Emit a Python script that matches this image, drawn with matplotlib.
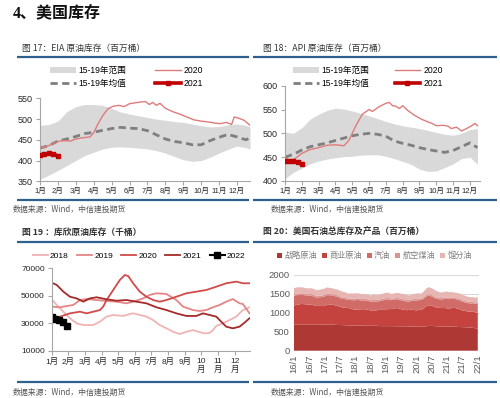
import matplotlib
matplotlib.use('Agg')
import matplotlib.pyplot as plt
from matplotlib.lines import Line2D
from matplotlib.patches import Patch

plt.rcParams['font.family'] = ['Liberation Sans', 'Noto Sans CJK SC']

# ---------------- data ----------------
months = ['1月', '2月', '3月', '4月', '5月', '6月', '7月', '8月', '9月', '10月', '11月', '12月']
months_wrap = ['1月', '2月', '3月', '4月', '5月', '6月', '7月', '8月', '9月', '10\n月', '11\n月', '12\n月']

# EIA (million bbl), x in months from January
eia_band_x = [0, 0.5, 1, 1.5, 2, 2.5, 3, 3.5, 4, 4.5, 5, 5.5, 6, 6.5, 7, 7.5, 8, 8.5, 9, 9.5, 10, 10.5, 11, 11.5, 11.73]
eia_hi = [485, 487, 495, 518, 530, 535, 535, 533, 526, 517, 512, 508, 504, 500, 497, 494, 492, 488, 484, 481, 482, 486, 488, 485, 481]
eia_lo = [355, 365, 376, 388, 400, 412, 420, 428, 432, 433, 432, 430, 428, 424, 418, 410, 402, 398, 400, 408, 418, 427, 435, 431, 428]
eia_mean = [430, 436, 447, 452, 458, 465, 468, 473, 477, 480, 478, 477, 472, 462, 452, 446, 443, 438, 438, 448, 456, 463, 457, 450, 455]
eia_2020_x = [0, 0.3, 0.6, 1.0, 1.3, 1.7, 2.0, 2.4, 2.8, 3.0, 3.2, 3.5, 3.8, 4.1, 4.4, 4.7, 5.0, 5.3, 5.6, 5.9, 6.1, 6.3, 6.5, 6.7, 7.0,
              7.4, 7.8, 8.2, 8.6, 9.0, 9.4, 9.8, 10.1, 10.4, 10.7, 10.85, 11.1, 11.4, 11.73]
eia_2020 = [431, 433, 438, 446, 448, 447, 452, 455, 457, 467, 485, 508, 525, 531, 533, 530, 537, 539, 541, 542, 535, 540, 533, 538, 526,
            518, 512, 505, 498, 495, 493, 490, 489, 492, 487, 505, 502, 497, 485]
eia_2021_x = [0, 0.25, 0.5, 0.75, 1.0]
eia_2021 = [413, 415, 417, 416, 411]

# API (million bbl)
api_band_x = [0, 0.5, 1, 1.5, 2, 2.5, 3, 3.5, 4, 4.5, 5, 5.5, 6, 6.5, 7, 7.5, 8, 8.5, 9, 9.5, 10, 10.5, 11, 11.45]
api_hi = [503, 500, 512, 530, 540, 548, 553, 551, 547, 542, 537, 531, 525, 520, 516, 513, 510, 506, 502, 498, 496, 500, 508, 510]
api_lo = [405, 418, 427, 436, 442, 446, 449, 451, 452, 454, 455, 455, 452, 447, 441, 435, 425, 420, 421, 428, 436, 447, 450, 435]
api_mean = [450, 456, 465, 472, 476, 480, 485, 490, 495, 498, 500, 498, 494, 484, 479, 475, 470, 466, 463, 460, 464, 472, 480, 470]
api_2020_x = [0, 0.3, 0.6, 1.0, 1.5, 2.0, 2.5, 3.0, 3.5, 3.8, 4.2, 4.6, 5.0, 5.2, 5.6, 6.0, 6.2, 6.4, 6.6, 6.8, 7.0, 7.3, 7.7, 8.1,
              8.5, 8.8, 9.0, 9.4, 9.7, 9.9, 10.2, 10.5, 10.8, 11.1, 11.3, 11.45]
api_2020 = [449, 443, 447, 458, 466, 470, 475, 476, 474, 485, 515, 540, 550, 546, 556, 563, 565, 558, 557, 552, 558, 548, 538, 530,
            524, 520, 516, 517, 515, 510, 513, 505, 510, 516, 521, 516]
api_2021_x = [0, 0.25, 0.5, 0.75, 1.0]
api_2021 = [441, 442, 441, 439, 436]

# Cushing (thousand bbl)
c2018_x = [0, 0.3, 0.7, 1.1, 1.5, 1.9, 2.5, 2.9, 3.3, 3.7, 4.3, 4.7, 4.9, 5.3, 5.7, 6.1, 6.5, 6.9, 7.3, 7.7, 8.1, 8.5, 8.9, 9.2, 9.5,
           9.7, 9.9, 10.3, 10.7, 11.1, 11.5, 11.9]
c2018 = [47400, 43300, 38400, 33600, 29900, 28700, 28700, 31100, 34800, 36000, 35300, 36700, 37200, 36000, 34800, 32300, 28700, 26300,
         23800, 22100, 23800, 25000, 23500, 22600, 23000, 25000, 28000, 29900, 32300, 34800, 39600, 41600]
c2019_x = [0, 0.5, 0.9, 1.3, 1.7, 2.1, 2.7, 3.3, 3.9, 4.5, 4.9, 5.5, 5.9, 6.3, 6.9, 7.5, 7.9, 8.5, 8.9, 9.3, 9.7, 10.1, 10.5, 10.9,
           11.3, 11.5, 11.9]
c2019 = [42100, 41600, 42500, 43300, 46900, 47600, 46900, 46200, 45700, 44500, 45700, 48100, 50600, 51800, 51300, 46900, 42100,
         39600, 38900, 39600, 41600, 43300, 45700, 47600, 44500, 44000, 37200]
c2020_x = [0, 0.5, 1.1, 1.7, 2.1, 2.5, 2.9, 3.1, 3.3, 3.7, 4.1, 4.4, 4.6, 4.9, 5.3, 5.7, 6.1, 6.5, 6.9, 7.5, 8.1, 8.7, 9.3, 9.9, 10.5,
           11.1, 11.5, 11.9]
c2020 = [33600, 34800, 37200, 38400, 37200, 38400, 39600, 42100, 46900, 54200, 61500, 65100, 64400, 59100, 53000, 49300, 46900,
         45700, 46900, 49300, 51800, 53000, 54200, 56600, 59100, 60300, 59100, 59100]
c2021_x = [0, 0.3, 0.7, 1.1, 1.5, 1.9, 2.3, 2.7, 3.3, 3.9, 4.5, 5.1, 5.7, 6.3, 6.9, 7.5, 8.1, 8.7, 9.1, 9.5, 9.9, 10.2, 10.5, 10.9,
           11.3, 11.6, 11.9]
c2021 = [59500, 57900, 53000, 49300, 48100, 45700, 48100, 48900, 47400, 46400, 46900, 45700, 44500, 41600, 39600, 37200, 35300,
         35300, 37200, 36000, 34800, 31100, 27500, 26300, 27500, 30400, 33600]
c2022_x = [0, 0.22, 0.45, 0.68, 0.9]
c2022 = [34800, 33300, 32000, 30800, 27800]

# US total petroleum stocks (million bbl), monthly 2016-01 .. 2022-01
stock_ticks = ['16/1', '16/7', '17/1', '17/7', '18/1', '18/7', '19/1', '19/7', '20/1', '20/7', '21/1', '21/7', '22/1']
spr = [695, 695, 695, 695, 695, 695, 695, 695, 695, 695, 695, 695,
       695, 692, 688, 688, 685, 680, 679, 676, 674, 669, 666, 663,
       662, 665, 665, 664, 660, 660, 659, 660, 658, 656, 650, 649,
       649, 649, 649, 649, 645, 645, 645, 645, 645, 640, 638, 635,
       635, 635, 635, 638, 645, 656, 656, 650, 645, 640, 638, 638,
       638, 638, 637, 634, 630, 625, 622, 620, 616, 612, 606, 594,
       590]
commercial = [500, 515, 530, 540, 535, 525, 520, 525, 500, 485, 490, 485,
              485, 520, 535, 530, 515, 505, 480, 465, 470, 458, 453, 432,
              420, 425, 428, 432, 435, 420, 405, 405, 405, 420, 445, 442,
              445, 450, 450, 460, 480, 475, 450, 440, 425, 435, 450, 440,
              430, 445, 455, 485, 535, 545, 530, 510, 495, 490, 488, 490,
              480, 465, 500, 495, 485, 465, 440, 435, 420, 420, 432, 420,
              415]
gasoline = [255, 258, 244, 241, 240, 238, 237, 232, 227, 222, 228, 236,
            255, 256, 242, 240, 241, 240, 233, 228, 220, 213, 220, 237,
            251, 252, 237, 232, 234, 240, 232, 234, 235, 225, 227, 240,
            257, 255, 235, 230, 233, 232, 233, 234, 228, 222, 225, 250,
            260, 255, 250, 262, 258, 255, 247, 232, 227, 227, 227, 240,
            250, 258, 232, 236, 232, 240, 232, 220, 222, 215, 215, 225,
            245]
jet = [42, 43, 44, 44, 43, 42, 43, 44, 45, 44, 43, 42,
       43, 44, 43, 42, 42, 41, 42, 43, 42, 41, 42, 41,
       40, 41, 40, 40, 41, 40, 41, 44, 44, 43, 42, 42,
       41, 42, 41, 41, 42, 41, 41, 43, 43, 42, 41, 41,
       42, 41, 40, 41, 42, 40, 40, 41, 41, 40, 39, 39,
       40, 40, 39, 38, 39, 40, 42, 42, 41, 40, 39, 38,
       36]
distillate = [155, 162, 160, 155, 150, 150, 153, 155, 155, 150, 155, 165,
              165, 160, 150, 150, 145, 150, 150, 149, 140, 130, 130, 140,
              140, 135, 128, 125, 120, 123, 125, 132, 130, 125, 128, 135,
              140, 135, 125, 128, 127, 130, 135, 140, 133, 122, 120, 133,
              143, 140, 130, 150, 175, 180, 178, 176, 162, 150, 145, 150,
              155, 142, 140, 135, 137, 138, 137, 137, 127, 125, 124, 127,
              125]
stock_names = ['战略原油', '商业原油', '汽油', '航空煤油', '馏分油']

# ---------------- figure ----------------
W, H = 500, 398
fig = plt.figure(figsize=(5, 3.98), dpi=100)


def fx(x):
    return x / W


def fy(y):
    return 1 - y / H


def add_ax(l, t, r, b):
    return fig.add_axes([l / W, 1 - b / H, (r - l) / W, (b - t) / H])


def hline(x0, x1, y, lw=1.6, color='#2f5f8f'):
    fig.add_artist(Line2D([fx(x0), fx(x1)], [fy(y), fy(y)], color=color, lw=lw, solid_capstyle='butt'))


AX_C = '#a6a6a6'
TXT_C = '#262626'


def style_axes(ax, xlim, ylim, yticks, xlabels, xlabelsize, ylabelsize):
    ax.set_facecolor('none')
    for s in ['top', 'right']:
        ax.spines[s].set_visible(False)
    for s in ['left', 'bottom']:
        ax.spines[s].set_color(AX_C)
        ax.spines[s].set_linewidth(0.8)
    ax.set_xlim(*xlim)
    ax.set_ylim(*ylim)
    ax.set_yticks(yticks)
    ax.set_xticks(range(12))
    ax.set_xticklabels(xlabels)
    ax.tick_params(axis='both', colors=AX_C, labelcolor=TXT_C, length=3, width=0.8, pad=2)
    ax.tick_params(axis='x', labelsize=xlabelsize)
    ax.tick_params(axis='y', labelsize=ylabelsize)


# main title
fig.text(fx(13), fy(13), '4、美国库存', fontsize=11.5, fontweight='bold',
         family=['Liberation Serif', 'Noto Sans CJK SC'], va='center', ha='left', color='#111111')

# panel titles and rules
title_kw = dict(fontsize=6.3, va='center', ha='left', color='#333333', family=['Noto Sans CJK SC'])
fig.text(fx(22), fy(48), '图 17：EIA 原油库存（百万桶）', **title_kw)
fig.text(fx(263), fy(48), '图 18：API 原油库存（百万桶）', **title_kw)
fig.text(fx(22), fy(232), '图 19 ：库欣原油库存（千桶）', fontweight='bold', **title_kw)
fig.text(fx(263), fy(232), '图 20：美国石油总库存及产品（百万桶）', fontweight='bold', **title_kw)

for y in [57, 200, 241.5, 381.5]:
    hline(17, 249, y)
    hline(253, 497, y)

src_kw = dict(fontsize=5.7, va='center', ha='left', color='#555555', family=['Noto Sans CJK SC'])
fig.text(fx(13), fy(209), '数据来源：Wind，中信建投期货', **src_kw)
fig.text(fx(271), fy(209), '数据来源：Wind，中信建投期货', **src_kw)
fig.text(fx(13), fy(392), '数据来源：Wind，中信建投期货', **src_kw)
fig.text(fx(271), fy(392), '数据来源：Wind，中信建投期货', **src_kw)

BAND_C = '#d9d9d9'
MEAN_C = '#7f7f7f'
C2020 = '#e07b7b'
C2021 = '#c00000'


def band_panel(ax, bx, lo, hi, mean, x20, y20, x21, y21):
    ax.fill_between(bx, lo, hi, color=BAND_C, lw=0, zorder=1)
    ax.plot(bx, mean, color=MEAN_C, lw=2.0, ls=(0, (2.6, 1.6)), zorder=2)
    ax.plot(x20, y20, color=C2020, lw=1.0, zorder=3)
    ax.plot(x21, y21, color=C2021, lw=2.6, marker='s', ms=3.2, zorder=4)


def band_legend(ax, x0, top, colsp):
    handles = [Patch(facecolor=BAND_C, edgecolor='none'),
               Line2D([], [], color=MEAN_C, lw=2.0, ls=(0, (2.6, 1.6))),
               Line2D([], [], color=C2020, lw=1.0),
               Line2D([], [], color=C2021, lw=2.6, marker='s', ms=3.2)]
    labels = ['15-19年范围', '15-19年均值', '2020', '2021']
    ax.legend(handles, labels, ncol=2, loc='upper left', bbox_to_anchor=(fx(x0), fy(top)),
              bbox_transform=fig.transFigure, frameon=False, handlelength=3.0,
              handleheight=0.6, handletextpad=0.35, columnspacing=colsp, labelspacing=0.5,
              borderpad=0, borderaxespad=0, prop={'family': ['Liberation Sans', 'Noto Sans CJK SC'], 'size': 6.2})


# Panel 1: EIA
ax1 = add_ax(40, 98.3, 250, 181.3)
band_panel(ax1, eia_band_x, eia_lo, eia_hi, eia_mean, eia_2020_x, eia_2020, eia_2021_x, eia_2021)
style_axes(ax1, (0, 11.73), (350, 550), [350, 400, 450, 500, 550], months, 5.5, 6.5)
band_legend(ax1, 50, 66, 3.3)

# Panel 2: API
ax2 = add_ax(285, 85.7, 480, 181)
band_panel(ax2, api_band_x, api_lo, api_hi, api_mean, api_2020_x, api_2020, api_2021_x, api_2021)
style_axes(ax2, (0, 11.6), (400, 600), [400, 450, 500, 550, 600], months, 5.5, 6.5)
band_legend(ax2, 293, 66, 2.9)

# Panel 3: Cushing
ax3 = add_ax(51.7, 268.3, 250, 350.7)
cush_colors = ['#f0b4b4', '#e58585', '#d24a4a', '#a52a2a']
for xs, ys, c, lab in [(c2018_x, c2018, cush_colors[0], '2018'), (c2019_x, c2019, cush_colors[1], '2019'),
                       (c2020_x, c2020, cush_colors[2], '2020'), (c2021_x, c2021, cush_colors[3], '2021')]:
    ax3.plot(xs, ys, color=c, lw=1.3, label=lab)
ax3.plot(c2022_x, c2022, color='black', lw=1.5, marker='s', ms=4, label='2022')
style_axes(ax3, (0, 11.93), (10000, 70000), [10000, 30000, 50000, 70000], months_wrap, 6, 6)
ax3.legend(ncol=5, loc='upper left', bbox_to_anchor=(fx(33), fy(252)), bbox_transform=fig.transFigure,
           frameon=False, fontsize=6, handlelength=1.8, handletextpad=0.25, columnspacing=1.0,
           borderpad=0, borderaxespad=0)

# Panel 4: total stocks stacked area
ax4 = add_ax(294, 275, 479.3, 350.7)
stock_colors = ['#ad3834', '#c4433f', '#d06b67', '#db9591', '#e7b5b2']
idx = list(range(len(spr)))
ax4.stackplot(idx, spr, commercial, gasoline, jet, distillate, colors=stock_colors, labels=stock_names, lw=0, zorder=2)
ax4.set_xlim(0, 72.6)
ax4.set_ylim(0, 2000)
ax4.set_yticks([0, 500, 1000, 1500, 2000])
ax4.set_xticks(range(0, 73, 6))
ax4.set_xticklabels(stock_ticks, rotation=90)
ax4.grid(axis='y', color='#d9d9d9', lw=0.8, zorder=0)
ax4.set_axisbelow(True)
for s in ax4.spines.values():
    s.set_visible(False)
ax4.tick_params(axis='both', length=0, labelsize=6.8, labelcolor='#595959', pad=3)
ax4.set_facecolor('none')
h4, l4 = ax4.get_legend_handles_labels()
ax4.legend(h4, l4, ncol=5, loc='upper left', bbox_to_anchor=(fx(277), fy(251)), bbox_transform=fig.transFigure,
           frameon=False, handlelength=0.6, handleheight=0.6, handletextpad=0.3, columnspacing=0.6,
           borderpad=0, borderaxespad=0, labelcolor='#7f7f7f',
           prop={'family': ['Noto Sans CJK SC'], 'size': 5.9})

fig.savefig('out.png', dpi=100)
